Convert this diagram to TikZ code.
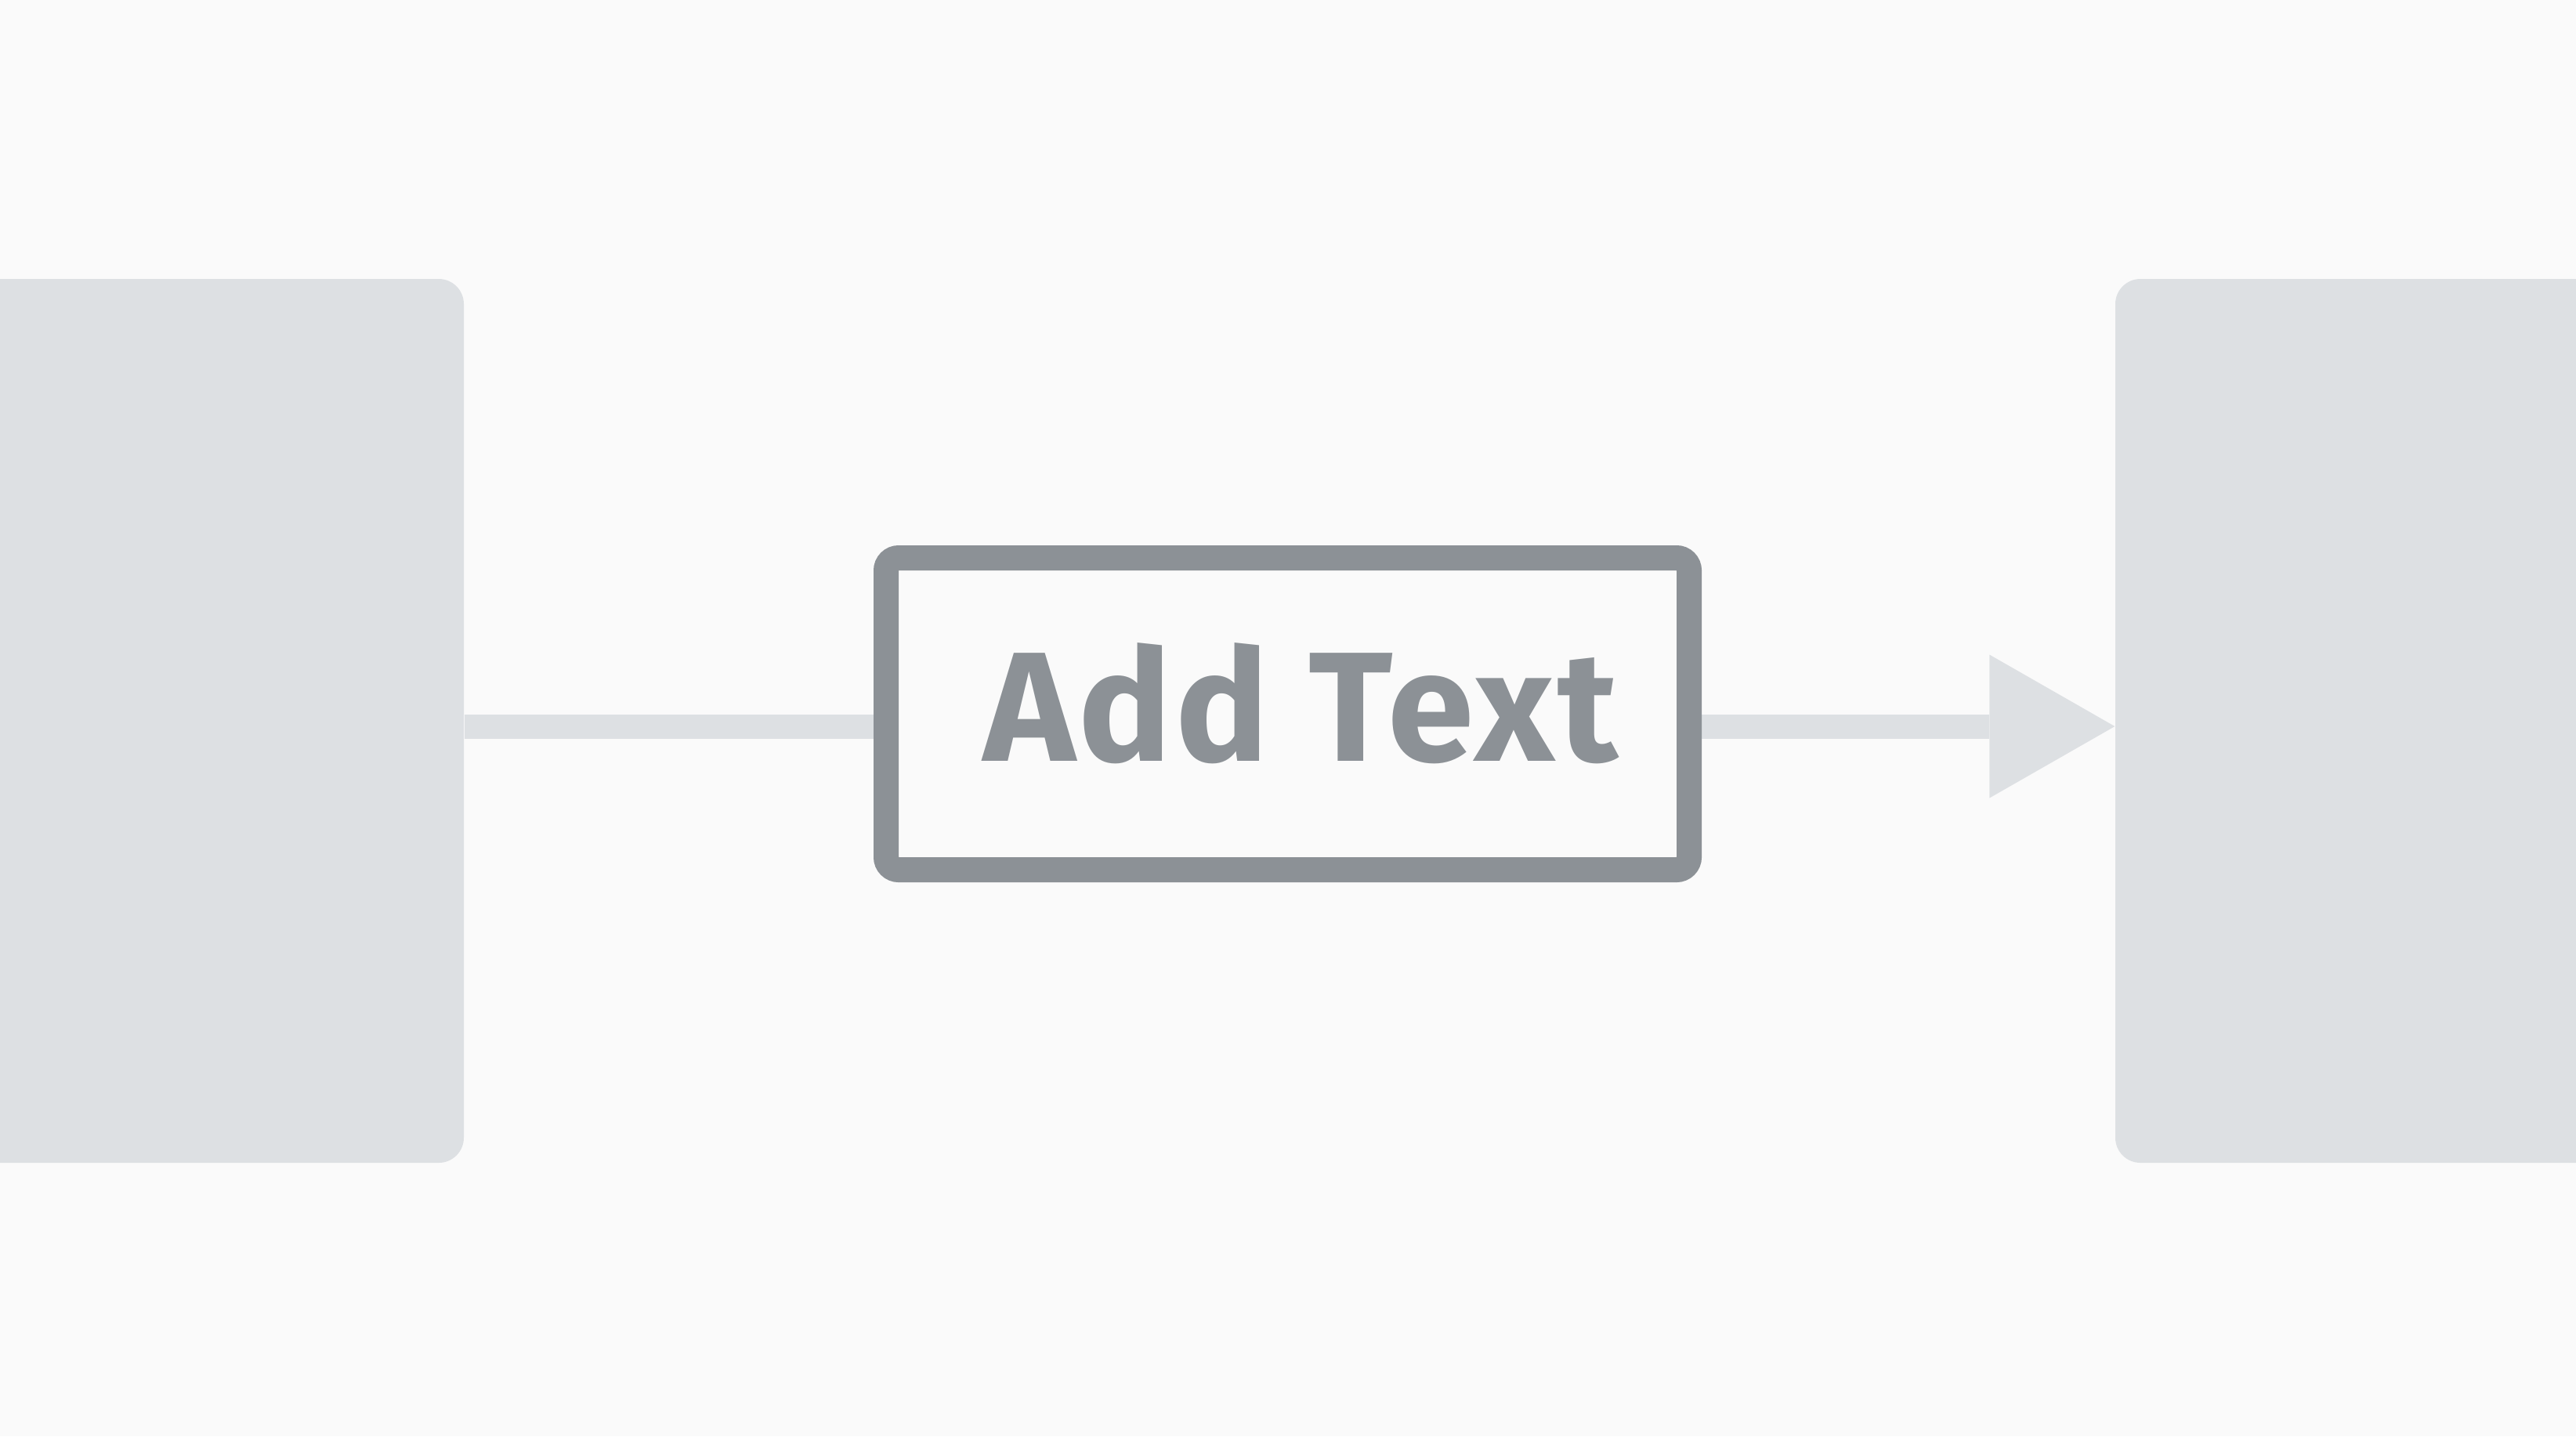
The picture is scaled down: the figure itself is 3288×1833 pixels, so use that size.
\documentclass[tikz,border=0pt]{standalone}
\usepackage{fontspec}
\setmainfont{Fira Sans}
\newfontfamily\notefont[LetterSpace=2]{Fira Sans}
\usetikzlibrary{arrows.meta}
\definecolor{canvas}{HTML}{FAFAFA}
\definecolor{panel}{HTML}{DDE0E3}
\definecolor{ink}{HTML}{8C9196}
\begin{document}
\begin{tikzpicture}[x=0.1mm, y=-0.1mm]
            \tikzset{block/.style={fill=panel, rounded corners=3.2mm, inner sep=0pt, minimum height=112.8mm}}
            \tikzset{flow/.style={panel, line width=3.1mm, -{Triangle[length=16mm, width=18.3mm, line width=0pt]}}}
            \tikzset{tag/.style={draw=ink, fill=canvas, line width=3.2mm, rounded corners=1.6mm, inner sep=0pt,
                minimum width=102.5mm, minimum height=39.8mm, text=ink,
                font=\notefont\fontsize{56.6}{60}\selectfont\bfseries, text height=13.7mm, text depth=1.7mm}}
            \fill[canvas] (0, 0) rectangle (3288, 1833);
            \useasboundingbox (0, 0) rectangle (3288, 1833);
            \node[block, minimum width=69.2mm] (src) at (246, 920) {};
            \node[block, minimum width=70mm] (dst) at (3050, 920) {};
            \draw[flow] ([yshift=-0.7mm]src.east) -- ([yshift=-0.7mm]dst.west);
            \node[tag] (note) at (1643.5, 911) {\hspace*{3.4mm}Add Text};
        \end{tikzpicture}
\end{document}
